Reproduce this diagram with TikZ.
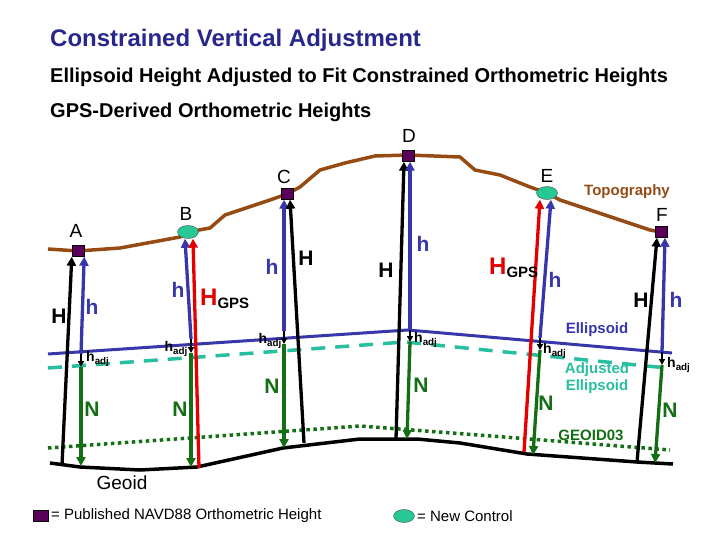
\documentclass[tikz,border=0pt]{standalone}
\usepackage{fontspec}
\setmainfont{Liberation Sans}
\usetikzlibrary{arrows.meta,shapes.geometric}
\definecolor{topo}{RGB}{150,75,20}
\definecolor{ell}{RGB}{55,55,170}
\definecolor{adj}{RGB}{40,190,160}
\definecolor{geo}{RGB}{20,110,20}
\definecolor{ttl}{RGB}{40,40,140}
\definecolor{mark}{RGB}{90,0,90}
\definecolor{ctl}{RGB}{40,200,150}
\begin{document}
\begin{tikzpicture}[x=1pt,y=-1pt,
  ar/.style={line width=3.3pt,-{Triangle[width=9pt,length=9pt]}},
  Hl/.style={ar,black},
  hl/.style={ar,ell},
  Nl/.style={ar,geo},
  Gl/.style={ar,red!90!black},
  ad/.style={line width=1.4pt,black,-{Triangle[width=6pt,length=6pt]}},
  sq/.style={draw=black,fill=mark,minimum width=12pt,minimum height=11pt,inner sep=0pt},
  el/.style={ellipse,draw=black!70,fill=ctl,minimum width=21pt,minimum height=13pt,inner sep=0pt},
  lb/.style={font=\fontsize{19}{19}\selectfont},
  bl/.style={font=\bfseries\fontsize{21}{21}\selectfont},
  sm/.style={font=\bfseries\fontsize{14}{14}\selectfont},
  sn/.style={font=\bfseries\fontsize{15}{17}\selectfont}]
\useasboundingbox (0,0) rectangle (720,540);
% titles
\node[anchor=west,text=ttl,font=\bfseries\fontsize{24}{24}\selectfont,inner sep=0pt] (t1) at (50,40) {Constrained Vertical Adjustment};
\node[anchor=west,font=\bfseries\fontsize{20}{20}\selectfont,inner sep=0pt] (t2) at (50,77) {Ellipsoid Height Adjusted to Fit Constrained Orthometric Heights};
\node[anchor=west,font=\bfseries\fontsize{20}{20}\selectfont,inner sep=0pt] (t3) at (50,112) {GPS-Derived Orthometric Heights};
% surfaces
\draw[topo,line width=3.5pt] (48,249) -- (78,251) -- (120,248) -- (180,237) -- (188,232) -- (210,228) -- (225,215) -- (240,210) -- (270,200) -- (287,194) -- (300,187) -- (320,170) -- (345,163) -- (375,156) -- (408,155) -- (460,157) -- (475,170) -- (500,175) -- (530,187) -- (547,193) -- (560,200) -- (590,210) -- (620,220) -- (650,230) -- (661,232);
\draw[ell,line width=3pt] (48,354) -- (408,330) -- (672,353);
\draw[adj,line width=3.5pt,dash pattern=on 14pt off 10pt] (48,368) -- (405,342) -- (667,368);
\draw[geo,line width=3.5pt,dash pattern=on 3.5pt off 3.5pt] (48,448) -- (360,426) -- (517,438) -- (670,450);
\draw[black,line width=3.5pt] (50,463) -- (80,467) -- (140,470) -- (197,467) -- (283,448) -- (360,439) -- (417,439) -- (460,443) -- (527,454) -- (637,462) -- (673,464);
% base coordinates
\coordinate (Ab) at (62,465); \coordinate (Ae) at (81,354); \coordinate (Aa) at (81,367); \coordinate (Ag) at (81,466);
\coordinate (Bb) at (199,468); \coordinate (Be) at (191,339); \coordinate (Ba) at (191,353); \coordinate (Bg) at (191,467);
\coordinate (Cb) at (304,443); \coordinate (Ce) at (284,331); \coordinate (Ca) at (284,344); \coordinate (Cg) at (284,448);
\coordinate (Db) at (396,439); \coordinate (De) at (410,330); \coordinate (Da) at (410,342); \coordinate (Dg) at (407,439);
\coordinate (Eb) at (524,452); \coordinate (Ee) at (540,338); \coordinate (Ea) at (540,350); \coordinate (Eg) at (533,455);
\coordinate (Fb) at (637,462); \coordinate (Fe) at (662,352); \coordinate (Fa) at (662,365); \coordinate (Fg) at (655,463);
% markers
\node[sq] (A) at (78,251) {};
\node[el] (B) at (188,232) {};
\node[sq] (C) at (287,194) {};
\node[sq] (D) at (408,156) {};
\node[el] (E) at (547,193) {};
\node[sq] (F) at (661,232) {};
% station A
\draw[Hl] (Ab) -- (A.south west);
\draw[hl] (Ae) -- (A.south east);
\draw[ad] (Ae) -- (Aa);
\draw[Nl] (Aa) -- (Ag);
% B
\draw[hl] (Be) -- ([xshift=-3pt]B.south);
\draw[Gl] (Bb) -- ([xshift=5pt]B.south);
\draw[ad] (Be) -- (Ba);
\draw[Nl] (Ba) -- (Bg);
% C
\draw[hl] (Ce) -- ([xshift=-3pt]C.south);
\draw[Hl] (Cb) -- ([xshift=3pt]C.south);
\draw[ad] (Ce) -- (Ca);
\draw[Nl] (Ca) -- (Cg);
% D
\draw[Hl] (Db) -- ([xshift=-4pt]D.south);
\draw[hl] (De) -- ([xshift=2pt]D.south);
\draw[ad] (De) -- (Da);
\draw[Nl] (Da) -- (Dg);
% E
\draw[Gl] (Eb) -- ([xshift=-7pt]E.south);
\draw[hl] (Ee) -- ([xshift=4pt]E.south);
\draw[ad] (Ee) -- (Ea);
\draw[Nl] (Ea) -- (Eg);
% F
\draw[Hl] (Fb) -- ([xshift=-4pt]F.south);
\draw[hl] (Fe) -- ([xshift=4pt]F.south);
\draw[ad] (Fe) -- (Fa);
\draw[Nl] (Fa) -- (Fg);
% station letters
\node[lb] (lA) at (76,231) {A};
\node[lb] (lB) at (186,214) {B};
\node[lb] (lC) at (284,177) {C};
\node[lb] (lD) at (409,136) {D};
\node[lb] (lE) at (547,176) {E};
\node[lb] (lF) at (662,215) {F};
% labels
\node[bl] (HA) at (59,316) {H};
\node[bl,text=ell] (hA) at (92,307) {h};
\node[sm,anchor=west,inner sep=0pt] (aA) at (86,359) {h\textsubscript{adj}};
\node[bl,text=geo] (NA) at (92,409) {N};
\node[bl,text=ell] (hB) at (178,290) {h};
\node[anchor=west,inner sep=0pt] (GB) at (200,299) {\bfseries\fontsize{24}{24}\selectfont\textcolor{red!90!black}{H}\fontsize{15}{15}\selectfont\raisebox{-3pt}{GPS}};
\node[sm,anchor=east,inner sep=0pt] (aB) at (188,349) {h\textsubscript{adj}};
\node[bl,text=geo] (NB) at (180,409) {N};
\node[bl,text=ell] (hC) at (272,267) {h};
\node[bl] (HC) at (306,258) {H};
\node[sm,anchor=east,inner sep=0pt] (aC) at (282,341) {h\textsubscript{adj}};
\node[bl,text=geo] (NC) at (272,386) {N};
\node[bl] (HD) at (386,270) {H};
\node[bl,text=ell] (hD) at (423,244) {h};
\node[sm,anchor=west,inner sep=0pt] (aD) at (414,340) {h\textsubscript{adj}};
\node[bl,text=geo] (ND) at (421,385) {N};
\node[anchor=west,inner sep=0pt] (GE) at (489,268) {\bfseries\fontsize{24}{24}\selectfont\textcolor{red!90!black}{H}\fontsize{15}{15}\selectfont\raisebox{-3pt}{GPS}};
\node[bl,text=ell] (hE) at (555,280) {h};
\node[sm,anchor=west,inner sep=0pt] (aE) at (543,351) {h\textsubscript{adj}};
\node[bl,text=geo] (NE) at (546,403) {N};
\node[bl] (HF) at (641,300) {H};
\node[bl,text=ell] (hF) at (676,300) {h};
\node[sm,anchor=west,inner sep=0pt] (aF) at (667,365) {h\textsubscript{adj}};
\node[bl,text=geo] (NF) at (670,410) {N};
% surface names
\node[sn,text=topo] (tp) at (627,192) {Topography};
\node[sn,text=ell] (tel) at (597,330) {Ellipsoid};
\node[sn,text=adj,align=center] (tad) at (597,378) {Adjusted\\Ellipsoid};
\node[sn,text=geo] (tg) at (591,435) {GEOID03};
\node[font=\fontsize{19}{19}\selectfont] (tgd) at (122,483) {Geoid};
% legend
\node[sq,minimum width=15pt,minimum height=11pt] (L1) at (41,516) {};
\node[anchor=west,font=\fontsize{15}{15}\selectfont,inner sep=0pt] (L1t) at (51,516) {= Published NAVD88 Orthometric Height};
\node[el] (L2) at (404,516) {};
\node[anchor=west,font=\fontsize{15}{15}\selectfont,inner sep=0pt] (L2t) at (417,516) {= New Control};
\end{tikzpicture}
\end{document}
